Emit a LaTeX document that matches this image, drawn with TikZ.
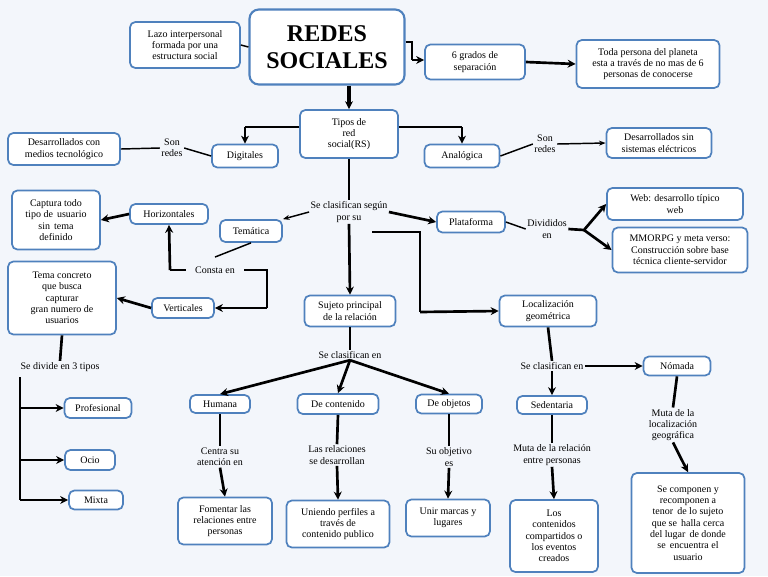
\documentclass[tikz,border=0pt]{standalone}
\usepackage{fontspec}
\setmainfont{Liberation Serif}
\usetikzlibrary{arrows.meta}
\definecolor{bg}{HTML}{F3F6FB}
\definecolor{bd}{HTML}{4F81BD}
\begin{document}
\begin{tikzpicture}[x=0.75pt,y=-0.75pt,
 box/.style={draw=bd,fill=white,line width=1.3pt,rounded corners=4pt,align=center,inner sep=1pt,font=\fontsize{7.5}{8.5}\selectfont},
 lbl/.style={align=center,inner sep=1pt,font=\fontsize{7.5}{8.5}\selectfont},
 arr/.style={line width=2pt,-{Stealth[length=6pt,width=6pt]}},
 ln/.style={line width=2pt},
 thin/.style={line width=1.1pt}]
\useasboundingbox[fill=bg] (0,0) rectangle (768,576);
% nodes
\node[box,line width=1.6pt,rounded corners=7pt,minimum width=155*0.75pt,minimum height=75*0.75pt,font=\fontsize{18}{20}\selectfont\bfseries] (t) at (327,47) {REDES\\SOCIALES};
\node[box,minimum width=110*0.75pt,minimum height=46*0.75pt] (lazo) at (185,45) {Lazo interpersonal\\formada por una\\estructura social};
\node[box,minimum width=100*0.75pt,minimum height=35*0.75pt] (g6) at (475,62) {6 grados de\\separación};
\node[box,minimum width=143*0.75pt,minimum height=48*0.75pt] (toda) at (648,64) {Toda persona del planeta\\esta a través de no mas de 6\\personas de conocerse};
\node[box,minimum width=98*0.75pt,minimum height=48*0.75pt] (tipos) at (349,134) {Tipos de\\red\\social(RS)};
\node[box,minimum width=66*0.75pt,minimum height=23*0.75pt] (dig) at (245,156) {Digitales};
\node[box,minimum width=75*0.75pt,minimum height=23*0.75pt] (ana) at (462,156) {Analógica};
\node[lbl] (sr1) at (172,148) {Son\\redes};
\node[lbl] (sr2) at (545,144) {Son\\redes};
\node[box,minimum width=112*0.75pt,minimum height=32*0.75pt] (dcon) at (64,149) {Desarrollados con\\medios tecnológico};
\node[box,minimum width=105*0.75pt,minimum height=30*0.75pt] (dsin) at (659,143) {Desarrollados sin\\sistemas eléctricos};
\node[lbl] (scs) at (349,212) {Se clasifican según\\por su};
\node[box,minimum width=62*0.75pt,minimum height=22*0.75pt] (tem) at (251,231) {Temática};
\node[box,minimum width=78*0.75pt,minimum height=20*0.75pt] (hor) at (169,214) {Horizontales};
\node[box,minimum width=88*0.75pt,minimum height=59*0.75pt] (cap) at (56,220) {Captura todo\\tipo de\, usuario\\sin\, tema\\definido};
\node[lbl,inner sep=7pt] (con) at (215,270) {Consta en};
\node[box,minimum width=62*0.75pt,minimum height=20*0.75pt] (ver) at (183,308) {Verticales};
\node[box,minimum width=108*0.75pt,minimum height=73*0.75pt] (tema) at (62,298) {Tema concreto\\que busca\\capturar\\gran numero de\\usuarios};
\node[lbl] (div) at (60,367) {Se divide en 3 tipos};
\node[box,minimum width=67*0.75pt,minimum height=20*0.75pt] (pro) at (98,408) {Profesional};
\node[box,minimum width=50*0.75pt,minimum height=20*0.75pt] (ocio) at (90,460) {Ocio};
\node[box,minimum width=54*0.75pt,minimum height=19*0.75pt] (mix) at (96,500) {Mixta};
\node[box,minimum width=68*0.75pt,minimum height=21*0.75pt] (pla) at (471,222) {Plataforma};
\node[lbl] (dvd) at (547,229) {Divididos\\en};
\node[box,minimum width=136*0.75pt,minimum height=32*0.75pt] (web) at (675,204) {Web: desarrollo típico\\web};
\node[box,minimum width=135*0.75pt,minimum height=45*0.75pt] (mmo) at (680,250) {MMORPG y meta verso:\\Construcción sobre base\\técnica cliente-servidor};
\node[box,minimum width=91*0.75pt,minimum height=31*0.75pt] (suj) at (350,311) {Sujeto principal\\de la relación};
\node[box,minimum width=97*0.75pt,minimum height=31*0.75pt] (loc) at (548,311) {Localización\\geométrica};
\node[lbl] (sce1) at (350,355) {Se clasifican en};
\node[box,minimum width=60*0.75pt,minimum height=18*0.75pt] (hum) at (220,404) {Humana};
\node[box,minimum width=81*0.75pt,minimum height=20*0.75pt] (dcont) at (338,404) {De contenido};
\node[box,minimum width=66*0.75pt,minimum height=19*0.75pt] (dobj) at (449,404) {De objetos};
\node[lbl] (cen) at (220,457) {Centra su\\atención en};
\node[lbl] (lrel) at (337,455) {Las relaciones\\se desarrollan};
\node[lbl] (obj) at (449,457) {Su objetivo\\es};
\node[box,minimum width=94*0.75pt,minimum height=47*0.75pt] (fom) at (225,521) {Fomentar las\\relaciones entre\\personas};
\node[box,minimum width=103*0.75pt,minimum height=47*0.75pt] (uni) at (338,524) {Uniendo perfiles a\\través de\\contenido publico};
\node[box,minimum width=84*0.75pt,minimum height=37*0.75pt] (umar) at (448,518) {Unir marcas y\\lugares};
\node[lbl] (sce2) at (552,366) {Se clasifican en};
\node[box,minimum width=67*0.75pt,minimum height=19*0.75pt] (nom) at (677,366) {Nómada};
\node[box,minimum width=70*0.75pt,minimum height=18*0.75pt] (sed) at (552,405) {Sedentaria};
\node[lbl] (muta1) at (552,455) {Muta de la relación\\entre personas};
\node[box,minimum width=88*0.75pt,minimum height=72*0.75pt] (loscon) at (554,536) {Los\\contenidos\\compartidos o\\los eventos\\creados};
\node[lbl] (muta2) at (673,425) {Muta de la\\localización\\geográfica};
\node[box,minimum width=113*0.75pt,minimum height=100*0.75pt] (secom) at (688,523) {Se componen y\\recomponen a\\tenor\, de lo sujeto\\que se\, halla cerca\\del lugar\, de donde\\se\, encuentra el\\usuario};
% connectors
\draw[arr,line width=3pt] (t.south-|tipos.north) -- (tipos.north);
\draw[thin] (t.west) -- (lazo.east);
\draw[ln] (t.east|-0,42) -- (412,42) -- (412,60);
\draw[arr] (412,60) -- (g6.west|-0,60);
\draw[arr] (g6.east) -- (toda.west);
\draw[ln] (tipos.west|-0,127) -- (245,127);
\draw[arr] (245,127) -- (dig.north);
\draw[ln] (tipos.east|-0,127) -- (462,127);
\draw[arr] (462,127) -- (ana.north);
\draw[thin] (dig.west) -- (sr1.east);
\draw[thin] (sr1.west) -- (dcon.east);
\draw[thin] (ana.east) -- (sr2.west);
\draw[thin,-{Stealth[length=5pt]}] (sr2.east) -- (dsin.west);
\draw[ln] (tipos.south) -- (scs.north);
\draw[thin,-{Stealth[length=5pt]}] (scs.west) -- (tem.north east);
\draw[arr] (scs.east) -- (pla.west);
\draw[arr] (scs.south) -- (suj.north);
\draw[ln] (372,232) -- (420,232) -- (420,312);
\draw[arr] (420,312) -- (loc.west);
\draw[thin] (tem.south) -- (con.north);
\draw[ln] (con.west) -- (170,270);
\draw[arr] (170,270) -- (hor.south);
\draw[ln] (con.east) -- (267,270) -- (267,308);
\draw[arr] (267,308) -- (ver.east);
\draw[arr] (hor.west) -- (cap.east);
\draw[arr] (ver.west) -- (tema.east);
\draw[ln] (tema.south) -- (div.north);
\draw[ln] (20,377) -- (20,500);
\draw[arr] (20,408) -- (pro.west);
\draw[arr] (20,460) -- (ocio.west);
\draw[arr] (20,500) -- (mix.west);
\draw[thin] (pla.east) -- (dvd.west);
\coordinate (dv) at (584,230);
\draw[arr] (dvd.east) -- (dv) -- (web.west);
\draw[arr] (dv) -- (mmo.west);
\draw[ln] (suj.south) -- (sce1.north);
\draw[arr] (sce1.south) -- (hum.north);
\draw[arr] (sce1.south) -- (dcont.north);
\draw[arr] (sce1.south) -- (dobj.north);
\draw[ln] (hum.south) -- (cen.north);
\draw[arr] (cen.south) -- (fom.north);
\draw[ln] (dcont.south) -- (lrel.north);
\draw[arr] (lrel.south) -- (uni.north);
\draw[ln] (dobj.south) -- (obj.north);
\draw[arr] (obj.south) -- (umar.north);
\draw[ln] (loc.south) -- (sce2.north);
\draw[arr] (sce2.east) -- (nom.west);
\draw[arr] (sce2.south) -- (sed.north);
\draw[ln] (sed.south) -- (muta1.north);
\draw[arr] (muta1.south) -- (loscon.north);
\draw[ln] (nom.south) -- (muta2.north);
\draw[arr] (muta2.south) -- (secom.north);
\end{tikzpicture}
\end{document}
